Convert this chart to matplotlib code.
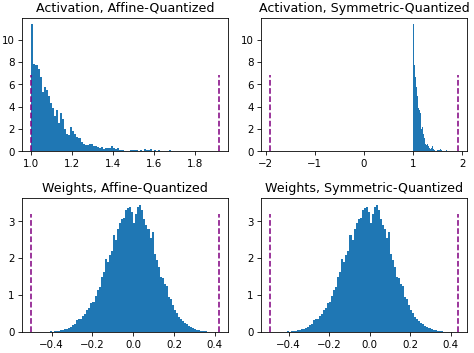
import numpy as np
import matplotlib
matplotlib.use('Agg')
import matplotlib.pyplot as plt

# гістограми активацій: бiни шириною 0.01 починаючи з 1.00
act_start = 1.00
act_width = 0.01
act_density = [
    11.4, 7.85, 7.7, 7.35, 6.7, 5.3, 5.75, 5.5, 5.0, 4.3,
    3.9, 3.2, 3.75, 2.5, 3.4, 2.9, 2.0, 1.6, 1.5, 2.2,
    1.8, 1.6, 1.3, 1.2, 0.8, 0.7, 0.55, 0.6, 0.65, 0.7,
    0.5, 0.45, 0.4, 0.35, 0.4, 0.25, 0.3, 0.3, 0.35, 0.5,
    0.3, 0.25, 0.3, 0.15, 0.1, 0.0, 0.0, 0.0, 0.1, 0.12,
    0.1, 0.15, 0.08, 0.12, 0.05, 0.18, 0.1, 0.12, 0.2, 0.05,
    0.12, 0.05, 0.15, 0.0, 0.0, 0.0, 0.0, 0.1, 0.0, 0.0,
    0.0, 0.05, 0.0, 0.0, 0.0, 0.05, 0.0, 0.0, 0.0, 0.05,
    0.0, 0.0, 0.0, 0.0, 0.0, 0.05, 0.0, 0.0, 0.0, 0.05,
    0.0,
]

# гістограма ваг: бiни шириною 0.01 починаючи з -0.42
w_start = -0.42
w_width = 0.01
w_density = [
    0.0, 0.02, 0.0, 0.02, 0.02, 0.03, 0.04, 0.05, 0.07, 0.08,
    0.12, 0.14, 0.18, 0.22, 0.33, 0.36, 0.34, 0.42, 0.48, 0.60,
    0.66, 0.78, 0.82, 0.98, 1.14, 1.22, 1.50, 1.62, 1.98, 1.90,
    2.08, 2.20, 2.62, 2.50, 2.78, 2.95, 3.05, 3.10, 3.30, 3.35,
    3.38, 3.25, 2.95, 3.20, 3.38, 3.45, 3.30, 3.05, 2.90, 2.80,
    2.55, 2.70, 2.10, 1.95, 1.75, 1.50, 1.45, 1.30, 1.25, 0.95,
    0.88, 0.72, 0.60, 0.52, 0.40, 0.35, 0.30, 0.25, 0.22, 0.17,
    0.14, 0.10, 0.08, 0.06, 0.05, 0.03, 0.03, 0.02, 0.01, 0.01,
    0.0, 0.01, 0.0, 0.01,
]

# межі квантування (пунктирні лінії)
act_affine_range = [1.0, 1.915]
act_sym_range = [-1.905, 1.905]
w_affine_range = [-0.50, 0.42]
w_sym_range = [-0.49, 0.435]
act_line_h = 6.8
w_line_h = 3.2

titles = ['Activation, Affine-Quantized', 'Activation, Symmetric-Quantized',
          'Weights, Affine-Quantized', 'Weights, Symmetric-Quantized']


def draw_hist(ax, start, width, density, htype):
    edges = start + width * np.arange(len(density) + 1)
    ax.hist(edges[:-1], bins=edges, weights=density, color='C0',
            histtype=htype)


fig, axes = plt.subplots(2, 2, figsize=(6.41, 4.775))
panels = [
    (act_start, act_width, act_density, act_affine_range, act_line_h, 'bar'),
    # на широкій осі вузькі стовпці губляться, тому суцільна заливка
    (act_start, act_width, act_density, act_sym_range, act_line_h, 'stepfilled'),
    (w_start, w_width, w_density, w_affine_range, w_line_h, 'bar'),
    (w_start, w_width, w_density, w_sym_range, w_line_h, 'bar'),
]
for ax, title, (start, width, dens, rng, h, htype) in zip(axes.flat, titles, panels):
    draw_hist(ax, start, width, dens, htype)
    ax.vlines(rng, 0, h, colors='purple', linestyles='dashed', linewidth=1.5)
    ax.set_title(title, fontsize=12.3)

# розташування осей як на оригіналі
plt.subplots_adjust(left=0.0464, right=0.985, top=0.949, bottom=0.0595,
                    wspace=0.16, hspace=0.35)
plt.savefig('out.png', dpi=74)
